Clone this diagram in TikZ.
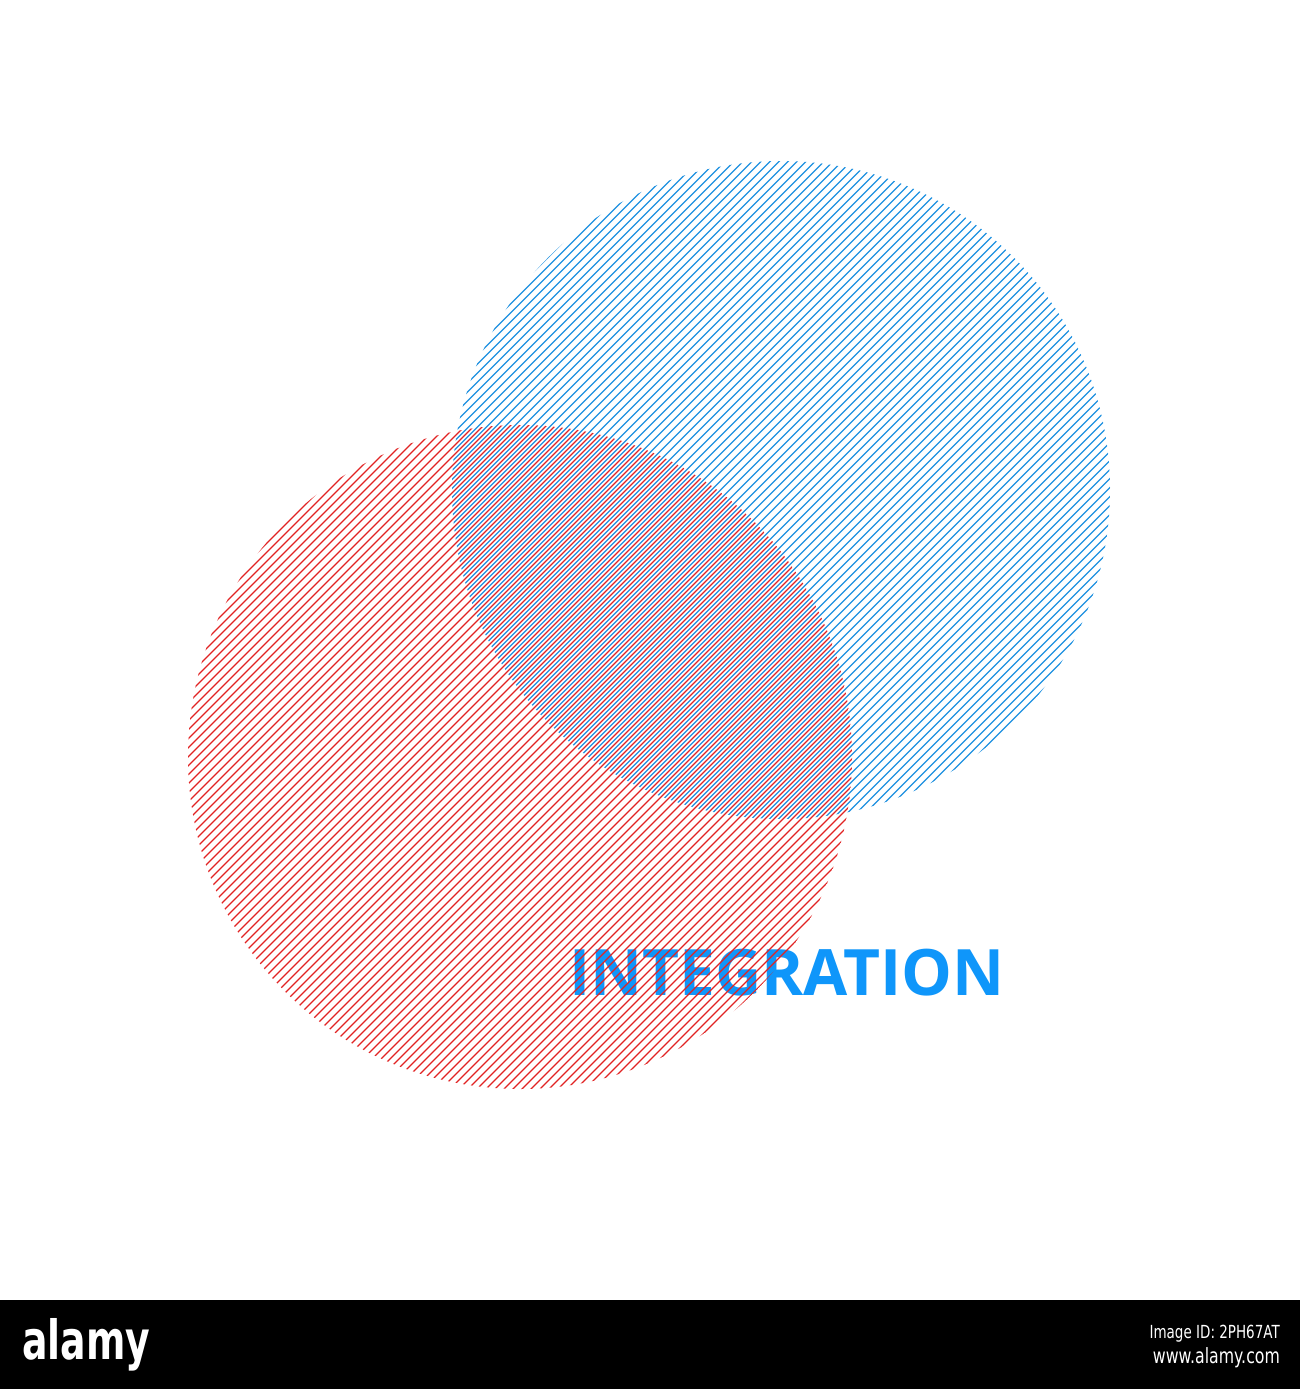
\documentclass[tikz,border=0pt]{standalone}
\usepackage{fontspec}
\newfontfamily\titlefont{Open Sans}
\newfontfamily\markfont{DejaVu Sans}
\definecolor{hatchblue}{RGB}{30,145,225}
\definecolor{hatchred}{RGB}{225,35,35}
\definecolor{titleblue}{RGB}{15,150,250}
\tikzset{
  hatch/.style={line width=1.35pt},
  marktext/.style={text=white,inner sep=0pt}
}
\begin{document}
\begin{tikzpicture}[x=1pt,y=-1pt]

\useasboundingbox (0,0) rectangle (1300,1389);
\fill[white] (0,0) rectangle (1300,1300);

%BLUE CIRCLE
\begin{scope}
\clip (781,490) circle (329);
\foreach \s in {805.5,814.5,...,1760}
  \draw[hatch,hatchblue] (\s-1300,1300) -- (\s,0);
\end{scope}

%TITLE
\node[anchor=base west,inner sep=0pt,text=titleblue,font=\titlefont\bfseries\fontsize{64}{64}\selectfont]
  (title) at (569,995) {INTEGRATION};

%RED CIRCLE
\begin{scope}
\clip (520,757) circle (332);
\foreach \s in {801,810,...,1761}
  \draw[hatch,hatchred] (\s-1300,1300) -- (\s,0);
\end{scope}

%BAR
\fill[black] (0,1300) rectangle (1300,1389);
\node[marktext,anchor=base west,xscale=0.7,font=\markfont\bfseries\fontsize{54}{54}\selectfont]
  (logo) at (22,1359) {alamy};
\node[marktext,anchor=base east,xscale=0.75,font=\markfont\fontsize{18}{18}\selectfont]
  (imageid) at (1280,1338) {Image ID: 2PH67AT};
\node[marktext,anchor=base east,xscale=0.75,font=\markfont\fontsize{21}{21}\selectfont]
  (website) at (1280,1363) {www.alamy.com};

\end{tikzpicture}
\end{document}
